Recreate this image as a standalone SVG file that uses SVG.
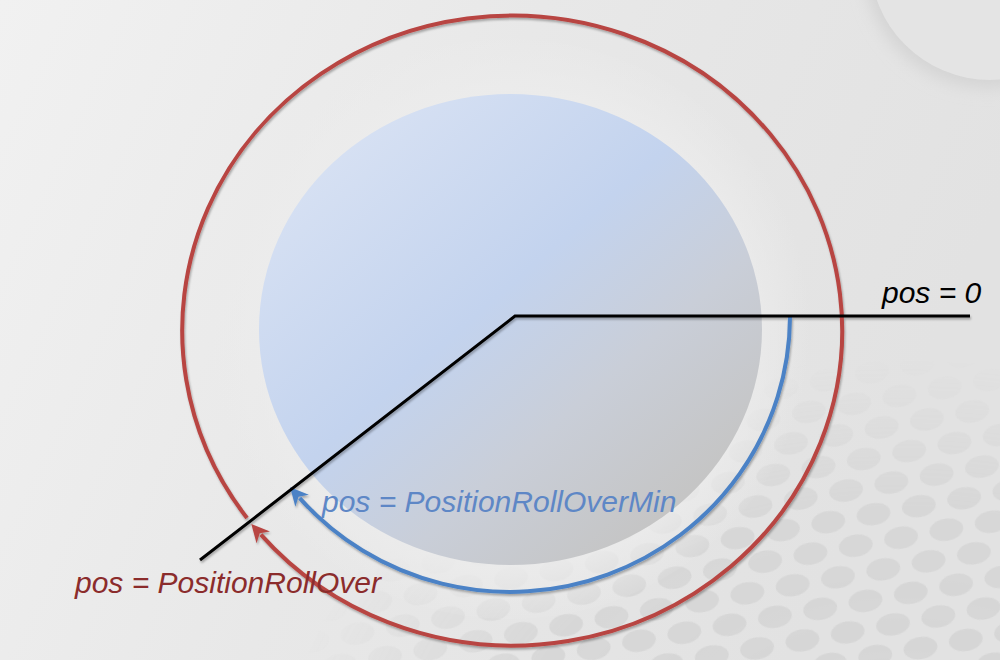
<svg xmlns="http://www.w3.org/2000/svg" width="1000" height="660" viewBox="0 0 1000 660">
  <defs>
    <linearGradient id="bg" x1="0" y1="0" x2="1" y2="0.3">
      <stop offset="0" stop-color="#f1f1f1"/>
      <stop offset="0.5" stop-color="#e8e8e8"/>
      <stop offset="1" stop-color="#e2e2e2"/>
    </linearGradient>
    <linearGradient id="disk" x1="0.15" y1="0.1" x2="0.85" y2="0.85">
      <stop offset="0" stop-color="#d7e1f3"/>
      <stop offset="0.45" stop-color="#c3d3ee"/>
      <stop offset="0.72" stop-color="#c9ced8"/>
      <stop offset="1" stop-color="#c5c5c5"/>
    </linearGradient>
    <pattern id="dots" width="46" height="56" patternUnits="userSpaceOnUse" patternTransform="rotate(-10)">
      <ellipse cx="12" cy="14" rx="17" ry="11" fill="#d5d5d5"/>
      <ellipse cx="35" cy="42" rx="17" ry="11" fill="#d5d5d5"/>
      <ellipse cx="-11" cy="42" rx="17" ry="11" fill="#d5d5d5"/>
      <ellipse cx="58" cy="14" rx="17" ry="11" fill="#d5d5d5"/>
    </pattern>
    <radialGradient id="fade" cx="900" cy="760" r="650" gradientUnits="userSpaceOnUse" gradientTransform="translate(900 760) scale(1 0.65) translate(-900 -760)">
      <stop offset="0" stop-color="#fff" stop-opacity="1"/>
      <stop offset="0.6" stop-color="#fff" stop-opacity="0.85"/>
      <stop offset="0.95" stop-color="#fff" stop-opacity="0"/>
    </radialGradient>
    <mask id="dotmask">
      <rect width="1000" height="660" fill="url(#fade)"/>
    </mask>
    <radialGradient id="halo" cx="510" cy="329" r="300" gradientUnits="userSpaceOnUse">
      <stop offset="0.8" stop-color="#ececec" stop-opacity="1"/>
      <stop offset="1" stop-color="#ececec" stop-opacity="0"/>
    </radialGradient>
    <filter id="soft" x="-30%" y="-30%" width="160%" height="160%">
      <feGaussianBlur stdDeviation="8"/>
    </filter>
    <filter id="shadow" x="-5%" y="-5%" width="110%" height="110%">
      <feDropShadow dx="1" dy="2" stdDeviation="1.2" flood-color="#000" flood-opacity="0.3"/>
    </filter>
    <marker id="arrRed" viewBox="0 0 10 10" refX="2" refY="5" markerWidth="4.5" markerHeight="4.5" orient="auto" markerUnits="strokeWidth">
      <path d="M0,0 L10,5 L0,10 L3,5 Z" fill="#b84542"/>
    </marker>
    <marker id="arrBlue" viewBox="0 0 10 10" refX="2" refY="5" markerWidth="4.5" markerHeight="4.5" orient="auto" markerUnits="strokeWidth">
      <path d="M0,0 L10,5 L0,10 L3,5 Z" fill="#4b82c6"/>
    </marker>
    <style>
      .lbl { font-family: "Liberation Sans", Arial, sans-serif; font-style: italic; font-size: 30px; }
      .ring { fill: none; stroke-width: 4; }
    </style>
  </defs>

  <g id="background">
    <rect width="1000" height="660" fill="url(#bg)"/>
    <rect width="1000" height="660" fill="url(#dots)" mask="url(#dotmask)"/>
    <ellipse cx="510" cy="329" rx="300" ry="290" fill="url(#halo)" opacity="0.8"/>
    <circle cx="988" cy="-36" r="124" fill="#d4d4d4" filter="url(#soft)"/>
    <circle cx="990" cy="-40" r="120" fill="#e4e4e4"/>
  </g>

  <g id="disk">
    <ellipse cx="510.5" cy="329.5" rx="251.5" ry="235.5" fill="url(#disk)"/>
  </g>

  <g id="connectors" filter="url(#shadow)">
    <path id="rollover-ring" class="ring" stroke="#b84542" d="M247,518 A330,315 0 1 1 260.9,534.7" marker-end="url(#arrRed)"/>
    <path id="rollovermin-arc" class="ring" stroke="#4b82c6" d="M790,317 A280,276 0 0 1 299.7,498.1" marker-end="url(#arrBlue)"/>
    <polyline id="axes" points="970,316 515,316 200,560" fill="none" stroke="#000" stroke-width="3"/>
  </g>

  <g id="label-zero">
    <text class="lbl" x="882" y="303" fill="#000">pos = 0</text>
  </g>
  <g id="label-min">
    <text class="lbl" x="322" y="512" fill="#5e87c6">pos = PositionRollOverMin</text>
  </g>
  <g id="label-rollover">
    <text class="lbl" x="75" y="593" fill="#8b2c2c">pos = PositionRollOver</text>
  </g>
</svg>
